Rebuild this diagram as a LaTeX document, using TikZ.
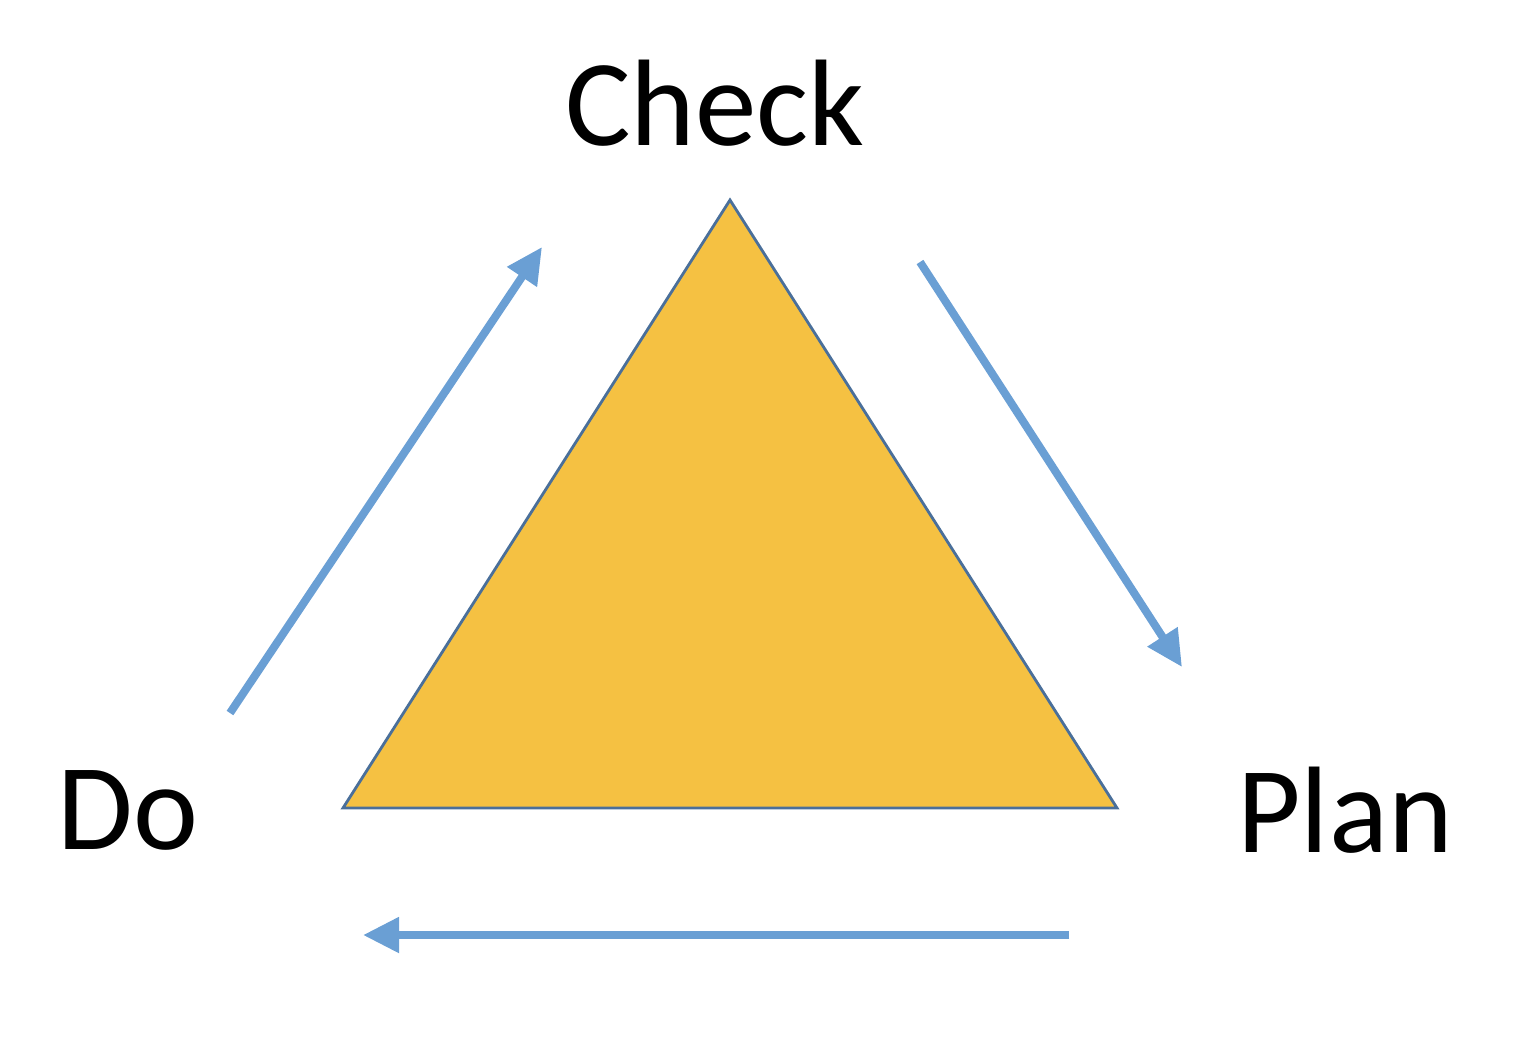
\documentclass[tikz,border=0pt]{standalone}
\usepackage{fontspec}
\setmainfont{Carlito}
\usetikzlibrary{arrows.meta}
\definecolor{trifill}{HTML}{F5C142}
\definecolor{triline}{HTML}{4A6F9A}
\definecolor{arrowblue}{HTML}{6A9FD4}
\begin{document}
\begin{tikzpicture}[
		x=0.01cm,
		y=-0.01cm,
		etiqueta/.style={
			font=\fontsize{35}{42}\selectfont,
			inner sep=0pt
		},
		seta/.style={
			-{Triangle[length=0.36cm, width=0.34cm]},
			draw=arrowblue,
			line width=0.08cm
		}
		]
		
		\useasboundingbox (0,0) rectangle (1536,1059);
		
		\coordinate (topo) at (730,200);
		\coordinate (esq) at (343,808);
		\coordinate (dir) at (1117,808);
		\filldraw[fill=trifill, draw=triline, line width=0.8pt] (topo) -- (esq) -- (dir) -- cycle;
		
		\node[etiqueta] (check) at (715,103) {Check};
		\node[etiqueta] (do) at (128,810) {Do};
		\node[etiqueta] (plan) at (1345,810) {Plan};
		
		\coordinate (a1) at (230,713);
		\coordinate (b1) at (542,247);
		\coordinate (a2) at (920,262);
		\coordinate (b2) at (1182,667);
		\coordinate (a3) at (1069,935);
		\coordinate (b3) at (363,935);
		
		%Setas
		\draw[seta] (a1) -- (b1);
		\draw[seta] (a2) -- (b2);
		\draw[seta] (a3) -- (b3);
		
	\end{tikzpicture}
\end{document}
